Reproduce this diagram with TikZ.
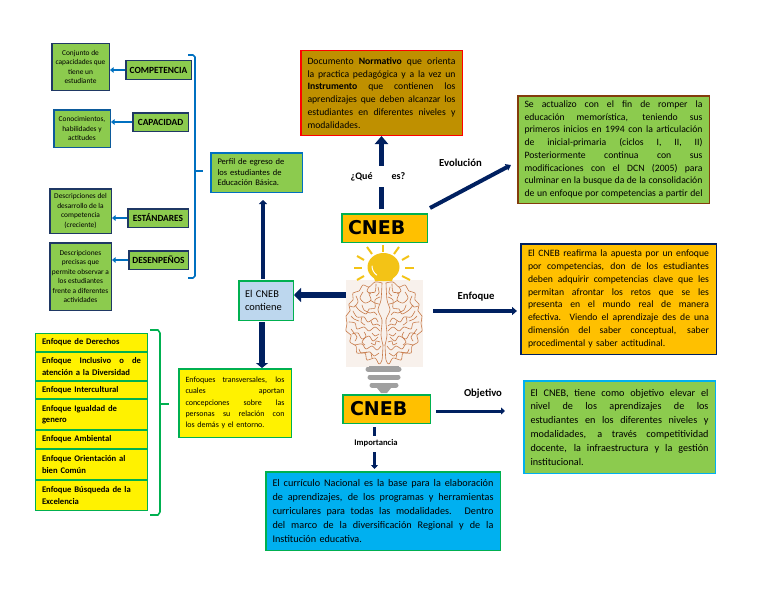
\documentclass[tikz,border=0pt]{standalone}
\usepackage{fontspec}
\setmainfont{Carlito}
\newfontfamily\cnebfont{DejaVu Sans}
\usetikzlibrary{arrows.meta}
\definecolor{grn}{HTML}{8CCB4E}
\definecolor{gold}{HTML}{BF9000}
\definecolor{amber}{HTML}{FFC000}
\definecolor{cyanb}{HTML}{00B0F0}
\definecolor{greenb}{HTML}{00B050}
\definecolor{navy}{HTML}{002060}
\definecolor{midb}{HTML}{0070C0}
\definecolor{brownb}{HTML}{843C0C}
\definecolor{paleb}{HTML}{BDD7EE}
\definecolor{dkblue}{HTML}{1F3864}
\definecolor{brainc}{HTML}{C77A4A}
\definecolor{brainbg}{HTML}{F8F1EC}
\definecolor{bulb}{HTML}{F3C316}
\definecolor{basec}{HTML}{A0A0A0}
\newcommand\J[1]{\hbox to\hsize{\spaceskip=0pt\xspaceskip=0pt #1}\par}
\newcommand\bx[7]{\node[#6,minimum width={(#4-#2-1.5)*1pt},minimum height={(#5-#3-1.5)*1pt}] (#1) at ({(#2+#4)/2},{(#3+#5)/2}) {#7};}
\tikzset{
 base/.style={draw,line width=1.5pt,inner sep=0pt,align=left,text=black},
 big/.style={base,font=\fontsize{9.7}{12.75}\selectfont},
 defbox/.style={base,draw=dkblue,fill=grn,align=center,font=\fontsize{7.4}{9.5}\selectfont},
 keybox/.style={base,draw=dkblue,fill=grn,align=center,font=\bfseries\fontsize{9.4}{11}\selectfont},
 row/.style={base,line width=1pt,draw=greenb,fill=yellow,text width=99pt,font=\bfseries\fontsize{8.6}{11.3}\selectfont},
 cnebbox/.style={base,draw=greenb,fill=amber,align=left,text width=73pt,font=\cnebfont\bfseries\fontsize{19}{22}\selectfont},
 lbl/.style={inner sep=0pt,text=black,font=\bfseries\fontsize{10.7}{12}\selectfont},
 fat/.style={navy,line width=5.5pt,-{Triangle[length=8pt,width=13pt]}},
 thin/.style={navy,line width=2.8pt,-{Triangle[length=4pt,width=7pt]}},
 small/.style={midb,line width=1.8pt,-{Triangle[length=3.5pt,width=5.5pt]}},
 fold/.style={brainc,line width=.6pt,line cap=round,line join=round},
 brack/.style={line width=1.6pt,line join=round},
}
\begin{document}
\begin{tikzpicture}[x=1pt,y=-1pt]
\useasboundingbox (0,0) rectangle (768,594);
% definitions, upper left
\bx{d1}{51}{43}{110}{91}{defbox}{Conjunto de\\capacidades que\\tiene un\\estudiante}
\bx{k1}{125}{60}{192}{80}{keybox}{COMPETENCIA}
\bx{d2}{53}{109}{111}{148}{defbox,draw=midb!60!dkblue}{Conocimientos,\\habilidades y\\actitudes}
\bx{k2}{132}{112}{189}{132}{keybox}{CAPACIDAD}
\bx{d3}{49}{188}{112}{234}{defbox}{Descripciones del\\desarrollo de la\\competencia\\(creciente)}
\bx{k3}{127}{208}{189}{228}{keybox}{ESTÁNDARES}
\bx{d4}{49}{242}{112}{311}{defbox}{Descripciones\\precisas que\\permite observar a\\los estudiantes\\frente a diferentes\\actividades}
\bx{k4}{128}{250}{189}{270}{keybox}{DESENPEÑOS}
\draw[small] (k1.west) -- (k1.west -| d1.east) ;
\draw[small] (k2.west) -- (k2.west -| d2.east) ;
\draw[small] (k3.west) -- (k3.west -| d3.east) ;
\draw[small] (k4.west) -- (k4.west -| d4.east) ;
\draw[brack,midb] (188,55) -- (193,55) -- (195,57) -- (195,276) -- (193,278) -- (188,278);
\draw[brack,midb] (195,171) -- (203,171);
\bx{perfil}{210}{152}{303}{193}{base,draw=midb,fill=grn,text width=78pt,font=\fontsize{8.5}{10.5}\selectfont}{Perfil de egreso de\\los estudiantes de\\Educación Básica.}
\bx{cont}{238}{280}{294}{321}{base,draw=greenb,fill=paleb,text width=42pt,font=\fontsize{10.4}{13.5}\selectfont}{El CNEB\\contiene}
\bx{trans}{178}{368}{292}{438}{base,draw=greenb,fill=yellow,text width=99pt,font=\fontsize{8}{11.4}\selectfont}{\J{Enfoques transversales, los}\J{cuales aportan}\J{concepciones sobre las}\J{personas su relación con}\hbox{los demás y el entorno.}}
% list
\bx{r1}{35}{333}{148}{352}{row}{Enfoque de Derechos}
\bx{r2}{35}{352}{148}{381}{row}{\J{Enfoque Inclusivo o de}\hbox{atención a la Diversidad}}
\bx{r3}{35}{381}{148}{399}{row}{Enfoque Intercultural}
\bx{r4}{35}{399}{148}{430}{row}{Enfoque Igualdad de\\genero}
\bx{r5}{35}{430}{148}{449}{row}{Enfoque Ambiental}
\bx{r6}{35}{449}{148}{480}{row}{Enfoque Orientación al\\bien Común}
\bx{r7}{35}{480}{148}{511}{row}{Enfoque Búsqueda de la\\Excelencia}
\draw[brack,greenb] (150,330) -- (158,330) -- (160,333) -- (160,512) -- (158,515) -- (150,515);
\draw[brack,greenb] (160,404) -- (169,404);
% center top
\bx{red}{300}{50}{463}{136}{big,draw=red,fill=gold,text width=148pt}{\J{Documento \textbf{Normativo} que orienta}\J{la practica pedagógica y a la vez un}\J{\textbf{Instrumento} que contienen los}\J{aprendizajes que deben alcanzar los}\J{estudiantes en diferentes niveles y}\hbox{modalidades.}}
\bx{c1}{341}{213}{428}{243}{cnebbox}{CNEB}
\bx{brown}{517}{95}{710}{204}{big,draw=brownb,fill=grn,text width=178pt}{\J{Se actualizo con el fin de romper la}\J{educación memorística, teniendo sus}\J{primeros inicios en 1994 con la articulación}\J{de inicial-primaria (ciclos I, II, II)}\J{Posteriormente continua con sus}\J{modificaciones con el DCN (2005) para}\J{culminar en la busque da de la consolidación}\J{de un enfoque por competencias a partir del}}
\bx{orange}{520}{243}{717}{355}{big,draw=navy,fill=amber,text width=181pt}{\J{El CNEB reafirma la apuesta por un enfoque}\J{por competencias, don de los estudiantes}\J{deben adquirir competencias clave que les}\J{permitan afrontar los retos que se les}\J{presenta en el mundo real de manera}\J{efectiva. Viendo el aprendizaje des de una}\J{dimensión del saber conceptual, saber}\hbox{procedimental y saber actitudinal.}}
\bx{c2}{342}{394}{431}{424}{cnebbox}{CNEB}
\bx{goal}{523}{380}{716}{474}{base,draw=cyanb,fill=grn,text width=178pt,font=\fontsize{10.2}{13.8}\selectfont}{\J{El CNEB, tiene como objetivo elevar el}\J{nivel de los aprendizajes de los}\J{estudiantes en los diferentes niveles y}\J{modalidades, a través competitividad}\J{docente, la infraestructura y la gestión}\hbox{institucional.}}
\bx{imp}{265}{471}{501}{551}{base,draw=greenb,fill=cyanb,text width=221pt,font=\fontsize{10.2}{13.9}\selectfont}{\J{El currículo Nacional es la base para la elaboración}\J{de aprendizajes, de los programas y herramientas}\J{curriculares para todas las modalidades. Dentro}\J{del marco de la diversificación Regional y de la}\hbox{Institución educativa.}}
% connectors
\draw[fat] (c1.north -| red.south) ++(0,-4) -- (red.south);
\node[fill=white,inner sep=0pt,minimum width=60pt,minimum height=21pt,font=\bfseries\fontsize{10}{11}\selectfont] (que) at (378,176.5) {¿Qué\hspace{19pt}es?};
\draw[navy,line width=4pt,-{Triangle[length=5pt,width=7pt]}] ([shift={(2,-5)}]c1.north east) -- ([shift={(-6,15.5)}]brown.west);
\node[lbl] (evo) at (460.5,163) {Evolución};
\draw[navy,line width=3.5pt,-{Triangle[length=5pt,width=8pt]},shorten >=3pt] (433,311) coordinate (eA) -- (eA -| orange.west);
\node[lbl] (enf) at (476,297) {Enfoque};
\draw[navy,line width=3pt,-{Triangle[length=4pt,width=7pt]}] ([xshift=5pt,yshift=-2pt]c2.east) -- ([xshift=-18pt,yshift=16pt]goal.west);
\node[lbl] (obj) at (483,394) {Objetivo};
\draw[thin] ([xshift=-12pt,yshift=-3pt]c2.south) -- ([xshift=-8.5pt,yshift=2pt]imp.north);
\node[fill=white,inner sep=1pt,minimum height=16pt,font=\bfseries\fontsize{8.6}{9}\selectfont] (impl) at (376,443.5) {Importancia};
\draw[navy,line width=6.5pt,-{Triangle[length=7pt,width=14pt]}] (346,295) coordinate (bL) -- (bL -| cont.east);
\draw[navy,line width=5.5pt,-{Triangle[length=5pt,width=12pt]}] ([xshift=-4pt,yshift=-1pt]cont.south) -- ([xshift=-4pt]cont.south |- trans.north);
\draw[navy,line width=3.8pt,-{Triangle[length=4pt,width=8pt]}] ([xshift=-3pt,yshift=1pt]cont.north) -- ([xshift=-3pt,yshift=-7pt]cont.north |- perfil.south);
% brain and bulb
\fill[brainbg] (346,280) rectangle (423,367);
\fill[basec] (369,366) rectangle (399,372);
\foreach \yy/\a/\b in {369/368/399,377/370/398,385/372/396}{\draw[basec,line width=5pt,line cap=round] (\a,\yy) -- (\b,\yy);}
\fill[basec] (377,388) -- (391,388) -- (387,393) -- (381,393) -- cycle;
\fill[bulb] (383.5,267) ellipse (16pt and 14pt);
\fill[bulb] (373,275) -- (394,275) -- (392,281) -- (375,281) -- cycle;
\draw[white,line width=1pt,line cap=round] (372,266) arc (180:235:11pt);
\foreach \xa/\ya/\xb/\yb in {383/245/383/252,367/247/372/254,399/247/394/254,357/256/364/260,409/256/402/260,354/268/362/268,414/268/405/268,357/280/364/276,410/280/402/276}{\draw[bulb,line width=2pt] (\xa,\ya) -- (\xb,\yb);}
\foreach \sx in {1,-1}{
\begin{scope}[shift={(384,0)},xscale=\sx]
\draw[fold] plot[smooth] coordinates {(-2,283)(-9,282)(-15,287)(-21,285)(-25,291)(-31,293)(-31,300)(-35,304)(-34,311)(-38,316)(-37,323)(-38,331)(-33,335)(-34,342)(-28,346)(-27,353)(-19,353)(-17,360)(-9,358)(-5,364)(-2,360)(-1,345)};
\draw[fold] plot[smooth] coordinates {(-2,283)(-3,300)(-6,310)(-2,320)(-3,335)(-1,345)};
\draw[fold] plot[smooth] coordinates {(-8,284)(-9,292)(-15,293)(-13,300)(-19,303)(-24,298)(-21,292)};
\draw[fold] plot[smooth] coordinates {(-4,297)(-9,300)(-9,308)(-15,309)(-18,314)(-25,310)(-29,305)};
\draw[fold] plot[smooth] coordinates {(-31,311)(-27,317)(-20,317)(-16,322)(-9,318)(-6,322)};
\draw[fold] plot[smooth] coordinates {(-35,322)(-29,323)(-27,329)(-20,327)(-15,331)(-9,327)(-4,331)};
\draw[fold] plot[smooth] coordinates {(-32,334)(-26,333)(-22,339)(-15,336)(-11,341)(-6,337)};
\draw[fold] plot[smooth] coordinates {(-29,345)(-22,344)(-18,349)(-12,346)(-7,350)(-3,346)};
\draw[fold] plot[smooth] coordinates {(-20,353)(-14,352)(-10,356)(-5,353)};
\draw[fold] plot[smooth] coordinates {(-14,300)(-9,303)(-5,304)};
\draw[fold] plot[smooth] coordinates {(-22,317)(-23,322)(-19,325)};
\draw[fold] plot[smooth] coordinates {(-28,296)(-26,302)(-30,307)(-34,306)};
\draw[fold] plot[smooth] coordinates {(-15,287)(-17,291)(-13,294)};
\draw[fold] plot[smooth] coordinates {(-22,305)(-20,310)(-14,313)(-10,312)(-7,315)};
\draw[fold] plot[smooth] coordinates {(-33,316)(-30,319)(-25,321)};
\draw[fold] plot[smooth] coordinates {(-13,321)(-11,325)(-7,324)(-4,326)};
\draw[fold] plot[smooth] coordinates {(-33,329)(-30,333)(-27,337)(-29,341)};
\draw[fold] plot[smooth] coordinates {(-20,332)(-18,336)(-22,342)(-19,345)};
\draw[fold] plot[smooth] coordinates {(-12,333)(-9,336)(-5,334)};
\draw[fold] plot[smooth] coordinates {(-13,343)(-9,345)(-8,341)(-4,342)};
\draw[fold] plot[smooth] coordinates {(-25,349)(-23,353)(-17,352)};
\draw[fold] plot[smooth] coordinates {(-13,353)(-12,358)};
\draw[fold] plot[smooth] coordinates {(-6,287)(-5,293)(-8,296)};
\end{scope}}
\end{tikzpicture}
\end{document}
